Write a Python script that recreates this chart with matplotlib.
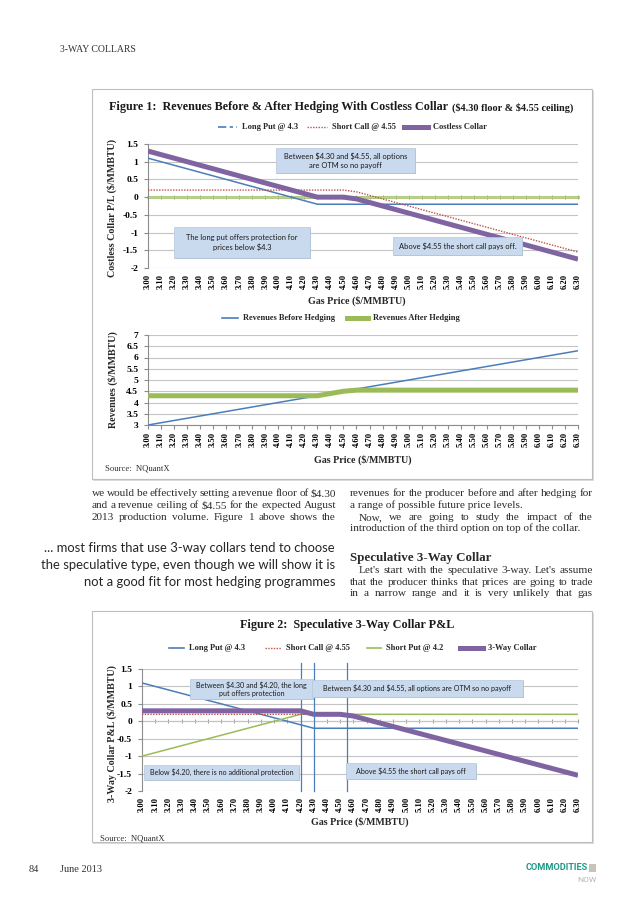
import matplotlib
matplotlib.use("Agg")
import matplotlib.pyplot as plt
from matplotlib.lines import Line2D
from matplotlib.patches import Rectangle

plt.rcParams["text.parse_math"] = False

# ---- data read from the page ----
prices = [3.00, 3.10, 3.20, 3.30, 3.40, 3.50, 3.60, 3.70, 3.80, 3.90, 4.00, 4.10,
          4.20, 4.30, 4.40, 4.50, 4.60, 4.70, 4.80, 4.90, 5.00, 5.10, 5.20, 5.30,
          5.40, 5.50, 5.60, 5.70, 5.80, 5.90, 6.00, 6.10, 6.20, 6.30]
price_labels = ["%.2f" % p for p in prices]

long_put = [1.1, 1.0, 0.9, 0.8, 0.7, 0.6, 0.5, 0.4, 0.3, 0.2, 0.1, 0.0, -0.1, -0.2,
            -0.2, -0.2, -0.2, -0.2, -0.2, -0.2, -0.2, -0.2, -0.2, -0.2, -0.2, -0.2,
            -0.2, -0.2, -0.2, -0.2, -0.2, -0.2, -0.2, -0.2]
short_call = [0.2, 0.2, 0.2, 0.2, 0.2, 0.2, 0.2, 0.2, 0.2, 0.2, 0.2, 0.2, 0.2, 0.2,
              0.2, 0.2, 0.15, 0.05, -0.05, -0.15, -0.25, -0.35, -0.45, -0.55, -0.65,
              -0.75, -0.85, -0.95, -1.05, -1.15, -1.25, -1.35, -1.45, -1.55]
costless_collar = [1.3, 1.2, 1.1, 1.0, 0.9, 0.8, 0.7, 0.6, 0.5, 0.4, 0.3, 0.2, 0.1,
                   0.0, 0.0, 0.0, -0.05, -0.15, -0.25, -0.35, -0.45, -0.55, -0.65,
                   -0.75, -0.85, -0.95, -1.05, -1.15, -1.25, -1.35, -1.45, -1.55,
                   -1.65, -1.75]

rev_before = [3.0, 3.1, 3.2, 3.3, 3.4, 3.5, 3.6, 3.7, 3.8, 3.9, 4.0, 4.1, 4.2, 4.3,
              4.4, 4.5, 4.6, 4.7, 4.8, 4.9, 5.0, 5.1, 5.2, 5.3, 5.4, 5.5, 5.6, 5.7,
              5.8, 5.9, 6.0, 6.1, 6.2, 6.3]
rev_after = [4.3, 4.3, 4.3, 4.3, 4.3, 4.3, 4.3, 4.3, 4.3, 4.3, 4.3, 4.3, 4.3, 4.3,
             4.4, 4.5, 4.55, 4.55, 4.55, 4.55, 4.55, 4.55, 4.55, 4.55, 4.55, 4.55,
             4.55, 4.55, 4.55, 4.55, 4.55, 4.55, 4.55, 4.55]

short_put = [-1.0, -0.9, -0.8, -0.7, -0.6, -0.5, -0.4, -0.3, -0.2, -0.1, 0.0, 0.1,
             0.2, 0.2, 0.2, 0.2, 0.2, 0.2, 0.2, 0.2, 0.2, 0.2, 0.2, 0.2, 0.2, 0.2,
             0.2, 0.2, 0.2, 0.2, 0.2, 0.2, 0.2, 0.2]
three_way = [0.3, 0.3, 0.3, 0.3, 0.3, 0.3, 0.3, 0.3, 0.3, 0.3, 0.3, 0.3, 0.3,
             0.2, 0.2, 0.2, 0.15, 0.05, -0.05, -0.15, -0.25, -0.35, -0.45, -0.55,
             -0.65, -0.75, -0.85, -0.95, -1.05, -1.15, -1.25, -1.35, -1.45, -1.55]
strikes = [4.20, 4.30, 4.55]

# ---- style ----
W, H = 638, 902
SERIF = "Liberation Serif"
SANS = "Lato"
BLUE, RED, PURPLE, GREEN = "#4a7ebb", "#c0504d", "#8064a2", "#9bbb59"
GRID = "#c4c4c4"
BOXBLUE = "#c9daee"

fig = plt.figure(figsize=(W / 100, H / 100), dpi=100)
fig.patch.set_facecolor("white")


def fx(x):
    return x / W


def fy(y):
    return 1 - y / H


def px_axes(l, t, r, b):
    return fig.add_axes([l / W, 1 - b / H, (r - l) / W, (b - t) / H])


def page_text(x, y, s, **kw):
    kw.setdefault("family", SERIF)
    kw.setdefault("va", "center")
    return fig.text(fx(x), fy(y), s, **kw)


def frame(l, t, r, b):
    fig.patches.append(Rectangle((fx(l + 1.5), fy(b + 1.5)), (r - l) / W, (b - t) / H,
                                 transform=fig.transFigure, facecolor="#dcdcdc",
                                 edgecolor="none", zorder=-3))
    fig.patches.append(Rectangle((fx(l), fy(b)), (r - l) / W, (b - t) / H,
                                 transform=fig.transFigure, facecolor="white",
                                 edgecolor="#bdbdbd", lw=0.8, zorder=-2))


def note(l, t, r, b, s, size=5.4):
    fig.patches.append(Rectangle((fx(l + 1), fy(b + 1)), (r - l) / W, (b - t) / H,
                                 transform=fig.transFigure, facecolor="#aab8c8",
                                 edgecolor="none", zorder=5))
    fig.patches.append(Rectangle((fx(l), fy(b)), (r - l) / W, (b - t) / H,
                                 transform=fig.transFigure, facecolor=BOXBLUE,
                                 edgecolor="#b4c6dc", lw=0.5, zorder=6))
    fig.text(fx((l + r) / 2), fy((t + b) / 2), s, family=SANS, fontsize=size,
             ha="center", va="center", color="#1a1a1a", zorder=7, linespacing=1.25)


def legend_item(x0, x1, y, label, **line_kw):
    fig.add_artist(Line2D([fx(x0), fx(x1)], [fy(y), fy(y)], transform=fig.transFigure,
                          **line_kw))
    page_text(x1 + 5, y, label, fontsize=6.0, weight="bold", color="#262626")


def style_axes(ax, ymin, ymax, ystep, zero_color=None, zero_lw=0.8, bottom_axis=False):
    ax.set_xlim(prices[0], prices[-1])
    ax.set_ylim(ymin, ymax)
    yt = []
    v = ymin
    while v <= ymax + 1e-9:
        yt.append(round(v, 2))
        v += ystep
    ax.set_yticks(yt)
    ax.set_yticklabels(["%g" % t for t in yt], family=SERIF, weight="bold", fontsize=6.8)
    ax.set_xticks(prices)
    ax.set_xticklabels(price_labels, rotation=90, family=SERIF, weight="bold",
                       fontsize=6.2)
    ax.grid(axis="y", color=GRID, lw=0.8)
    ax.set_axisbelow(True)
    for s in ("top", "right"):
        ax.spines[s].set_visible(False)
    ax.spines["left"].set_color("#8c8c8c")
    ax.spines["left"].set_linewidth(0.8)
    ax.tick_params(axis="y", length=3, color="#8c8c8c", pad=4)
    if bottom_axis:
        ax.spines["bottom"].set_color("#8c8c8c")
        ax.tick_params(axis="x", length=3, color="#8c8c8c", pad=2)
    else:
        ax.spines["bottom"].set_visible(False)
        ax.tick_params(axis="x", length=0, pad=4)
    if zero_color is not None:
        sec = ax.secondary_xaxis((0 - ymin) / (ymax - ymin))
        sec.set_xticks(prices)
        sec.tick_params(labeltop=False, labelbottom=False, direction="inout",
                        length=3, color="#8c8c8c", width=0.6)
        for s in ("top", "bottom"):
            sec.spines[s].set_color(zero_color)
            sec.spines[s].set_linewidth(zero_lw)
    ax.patch.set_alpha(0)


renderer = fig.canvas.get_renderer()

# ---- page header / footer ----
page_text(60, 49, "3-WAY COLLARS", fontsize=7, color="#333333")
page_text(29, 870, "84", fontsize=7.5, color="#333333")
page_text(60, 870, "June 2013", fontsize=7.5, color="#333333")
page_text(588, 868, "COMMODITIES", family="Roboto", weight="bold", fontsize=6.6,
          color="#1f9985", ha="right")
fig.patches.append(Rectangle((fx(589), fy(872)), 7 / W, 8 / H, transform=fig.transFigure,
                             facecolor="#c9c3bb", edgecolor="none"))
page_text(596, 880, "NOW", family="Roboto", fontsize=6, color="#b5b5b5", ha="right")

# ---- Figure 1 ----
frame(92, 89, 592, 479)
t1 = page_text(109, 107, "Figure 1:  Revenues Before & After Hedging With Costless Collar",
               fontsize=8.7, weight="bold", color="#1a1a1a")
t1_right = t1.get_window_extent(renderer).x1
page_text(t1_right + 4, 107.5, "($4.30 floor & $4.55 ceiling)", fontsize=7.4, weight="bold",
          color="#1a1a1a")

legend_item(218, 237, 127, "Long Put @ 4.3", color=BLUE, lw=1.2, dashes=(5, 2, 2, 2))
legend_item(307, 327, 127, "Short Call @ 4.55", color=RED, lw=1.0, dashes=(1, 1))
legend_item(404, 428, 127, "Costless Collar", color=PURPLE, lw=3.6)

ax1 = px_axes(148, 144, 578, 268)
ax1.plot(prices, long_put, color=BLUE, lw=1.1, zorder=3)
ax1.plot(prices, short_call, color=RED, lw=1.0, dashes=(1, 1), zorder=3)
ax1.plot(prices, costless_collar, color=PURPLE, lw=3.6, zorder=4,
         solid_capstyle="butt")
style_axes(ax1, -2, 1.5, 0.5, zero_color=GREEN, zero_lw=1.8)
page_text(112, 208, "Costless Collar P/L ($/MMBTU)", fontsize=7.2, weight="bold",
          rotation=90, ha="center", color="#262626")
page_text(357, 301, "Gas Price ($/MMBTU)", fontsize=7.2, weight="bold", ha="center",
          color="#262626")

note(276, 148, 415, 173, "Between $4.30 and $4.55, all options\nare OTM so no payoff")
note(174, 227, 310, 258, "The long put offers protection for\nprices below $4.3")
note(393, 237, 522, 255, "Above $4.55 the short call pays off.")

legend_item(222, 238, 318, "Revenues Before Hedging", color=BLUE, lw=1.2)
legend_item(347, 368, 318, "Revenues After Hedging", color=GREEN, lw=3.6)

ax2 = px_axes(148, 335, 578, 425)
ax2.plot(prices, rev_before, color=BLUE, lw=1.1, zorder=3)
ax2.plot(prices, rev_after, color=GREEN, lw=3.6, zorder=4, solid_capstyle="butt")
style_axes(ax2, 3, 7, 0.5, bottom_axis=True)
page_text(113, 380, "Revenues ($/MMBTU)", fontsize=7.2, weight="bold", rotation=90,
          ha="center", color="#262626")
page_text(363, 460, "Gas Price ($/MMBTU)", fontsize=7.2, weight="bold", ha="center",
          color="#262626")
page_text(105, 469, "Source:  NQuantX", fontsize=6.2, color="#333333")

# ---- body text (words set on a common baseline) ----
BODY = dict(family=SERIF, fontsize=8.1, color="#2b2b2b", va="baseline")


def justify(s, x0, x1, y, **kw):
    words = s.split()
    texts = [fig.text(0, 0, w, **kw) for w in words]
    widths = [t.get_window_extent(renderer).width for t in texts]
    gap = (x1 - x0 - sum(widths)) / max(len(words) - 1, 1)
    x = x0
    for t, w in zip(texts, widths):
        t.set_position((fx(x), fy(y + 3)))
        x += w + gap


def plain(s, x0, y):
    fig.text(fx(x0), fy(y + 3), s, **BODY)


justify("we would be effectively setting a revenue floor of $4.30", 92, 336, 493, **BODY)
justify("and a revenue ceiling of $4.55 for the expected August", 92, 336, 505, **BODY)
justify("2013 production volume. Figure 1 above shows the", 92, 336, 517, **BODY)

justify("revenues for the producer before and after hedging for", 350, 593, 493, **BODY)
plain("a range of possible future price levels.", 350, 505)
justify("Now, we are going to study the impact of the", 359, 593, 517, **BODY)
plain("introduction of the third option on top of the collar.", 350, 528)
page_text(350, 558, "Speculative 3-Way Collar", fontsize=9.4, weight="bold", color="#2b2b2b")
justify("Let's start with the speculative 3-way. Let's assume", 359, 593, 570, **BODY)
justify("that the producer thinks that prices are going to trade", 350, 593, 582, **BODY)
justify("in a narrow range and it is very unlikely that gas", 350, 593, 593, **BODY)

QUOTE = dict(family=SANS, fontsize=9.4, color="#262626", ha="right")
page_text(335, 548, "... most firms that use 3-way collars tend to choose", **QUOTE)
page_text(335, 565, "the speculative type, even though we will show it is", **QUOTE)
page_text(335, 582, "not a good fit for most hedging programmes", **QUOTE)

# ---- Figure 2 ----
frame(92, 611, 592, 842)
page_text(347, 625, "Figure 2:  Speculative 3-Way Collar P&L", fontsize=8.7,
          weight="bold", ha="center", color="#1a1a1a")

legend_item(169, 184, 648, "Long Put @ 4.3", color=BLUE, lw=1.2)
legend_item(265, 281, 648, "Short Call @ 4.55", color=RED, lw=1.0, dashes=(1, 1))
legend_item(367, 381, 648, "Short Put @ 4.2", color=GREEN, lw=1.2)
legend_item(460, 483, 648, "3-Way Collar", color=PURPLE, lw=3.6)

ax3 = px_axes(142, 669, 578, 791)
ax3.plot(prices, long_put, color=BLUE, lw=1.1, zorder=3)
ax3.plot(prices, short_put, color=GREEN, lw=1.1, zorder=3)
ax3.plot(prices, short_call, color=RED, lw=1.0, dashes=(1, 1), zorder=3)
ax3.plot(prices, three_way, color=PURPLE, lw=3.6, zorder=4, solid_capstyle="butt")
for k in strikes:
    ax3.axvline(k, ymin=0, ymax=1.05, color=BLUE, lw=0.9, clip_on=False, zorder=5)
style_axes(ax3, -2, 1.5, 0.5, zero_color="#9a9a9a", zero_lw=0.8)
page_text(112, 733, "3-Way Collar P&L ($/MMBTU)", fontsize=7.2, weight="bold",
          rotation=90, ha="center", color="#262626")
page_text(360, 822, "Gas Price ($/MMBTU)", fontsize=7.2, weight="bold", ha="center",
          color="#262626")
page_text(100, 838, "Source:  NQuantX", fontsize=6.2, color="#333333")

note(190, 679, 313, 699, "Between $4.30 and $4.20, the long\nput offers protection", size=5.1)
note(312, 680, 523, 697, "Between $4.30 and $4.55, all options are OTM so no payoff", size=5.1)
note(144, 765, 299, 780, "Below $4.20, there is no additional protection", size=5.1)
note(346, 763, 476, 779, "Above $4.55 the short call pays off", size=5.1)

fig.savefig("out.png", dpi=100)
